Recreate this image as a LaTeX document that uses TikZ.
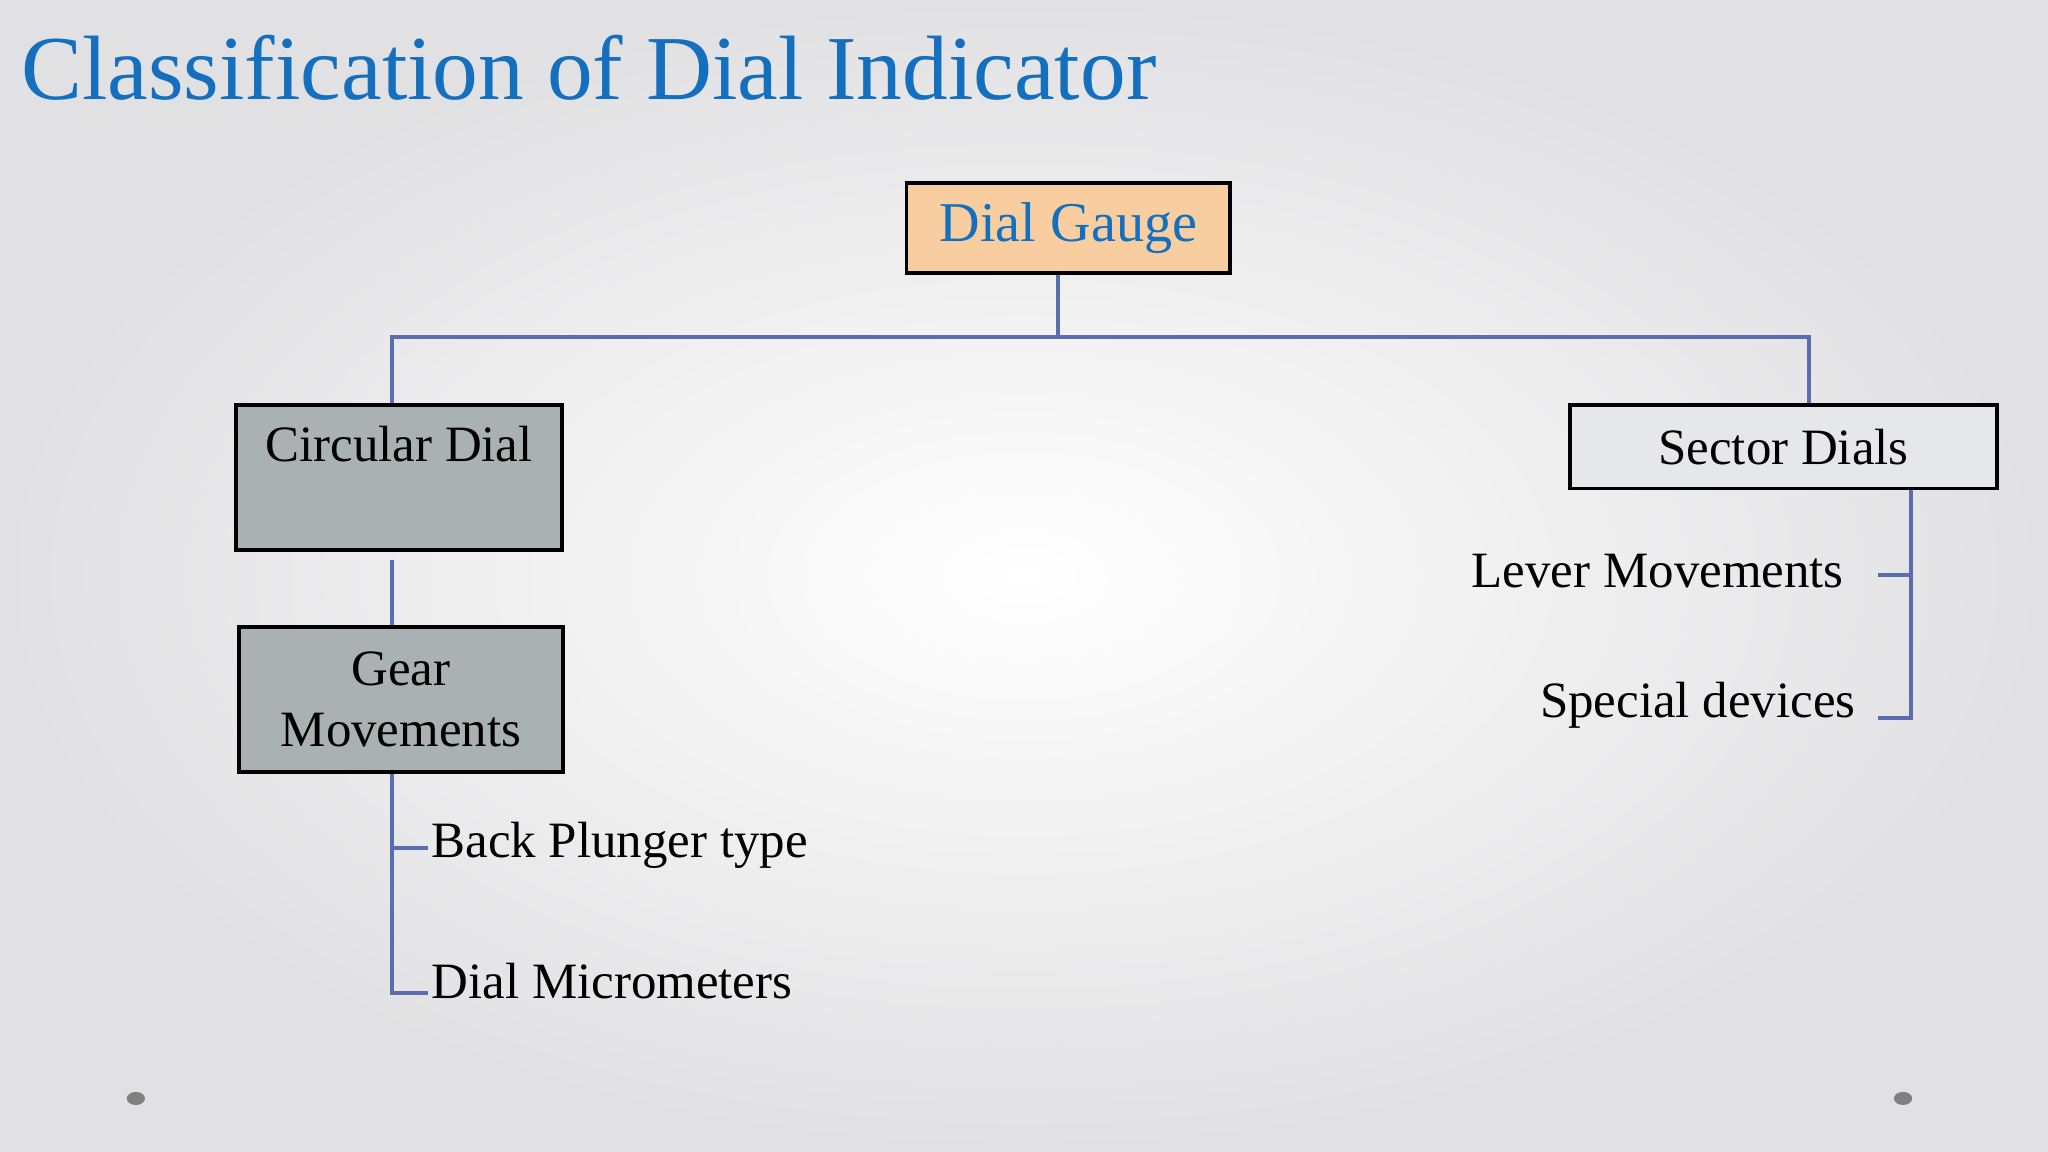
\documentclass[tikz,border=0pt]{standalone}
\usepackage{fontspec}
\setmainfont{Liberation Serif}
\definecolor{titleblue}{RGB}{20,112,190}
\definecolor{peach}{RGB}{248,206,160}
\definecolor{darkgrey}{RGB}{170,177,178}
\definecolor{lightgrey}{RGB}{230,231,233}
\definecolor{bggrey}{RGB}{225,225,227}
\definecolor{linkblue}{RGB}{90,110,175}
\begin{document}
\begin{tikzpicture}[x=0.5pt,y=-0.5pt,
  box/.style={draw=black, line width=1.5pt, inner sep=0pt, font=\fontsize{19.5}{23.5}\selectfont},
  link/.style={draw=linkblue, line width=1.5pt},
  leaf/.style={font=\fontsize{19.5}{23.5}\selectfont, inner sep=0pt}]
% background
\shade[inner color=white, outer color=bggrey] (0,0) rectangle (1568,882);
\useasboundingbox (0,0) rectangle (1568,882);
% title
\node[anchor=base west, text=titleblue, font=\fontsize{35}{40}\selectfont, inner sep=0pt] (title) at (16,76) {Classification of Dial Indicator};
% boxes
\node[box, fill=peach, text=titleblue, minimum width=124pt, minimum height=34.5pt, font=\fontsize{21.5}{26}\selectfont] (gauge) at (818,174.5) {Dial Gauge};
\node[box, fill=darkgrey, minimum width=124.5pt, minimum height=55.5pt, text depth=26pt] (circ) at (305.5,365.5) {Circular Dial};
\node[box, fill=darkgrey, minimum width=124pt, minimum height=55.5pt, align=center] (gear) at (307,535.5) {Gear\\Movements};
\node[box, fill=lightgrey, minimum width=163.5pt, minimum height=32pt] (sector) at (1365.5,342) {Sector Dials};
% junctions
\coordinate (top) at (810,258);
\coordinate (jl) at (300,258);
\coordinate (jr) at (1385,258);
\coordinate (g1) at (300,649);
\coordinate (g2) at (300,760);
\coordinate (s1) at (1463,440);
\coordinate (s2) at (1463,550);
% leaves
\node[leaf, anchor=west] (plunger) at (330,647) {Back Plunger type};
\node[leaf, anchor=west] (micro) at (330,751) {Dial Micrometers};
\node[leaf, anchor=east] (lever) at (1412,437) {Lever Movements};
\node[leaf, anchor=east] (special) at (1421,540) {Special devices};
% connectors
\draw[link] (gauge.south -| top) -- (top);
\draw[link] (jl |- circ.north) -- (jl) -- (jr) -- (jr |- sector.north);
\draw[link] ([yshift=-3pt]jl |- circ.south) -- (jl |- gear.north);
\draw[link] (jl |- gear.south) -- (g2) -- +(28,0);
\draw[link] (g1) -- +(28,0);
\draw[link] (s1 |- sector.south) -- (s2) -- +(-25,0);
\draw[link] (s1) -- +(-25,0);
% dots
\fill[gray] (104,841) ellipse (7 and 5);
\fill[gray] (1457,841) ellipse (7 and 5);
\end{tikzpicture}
\end{document}
